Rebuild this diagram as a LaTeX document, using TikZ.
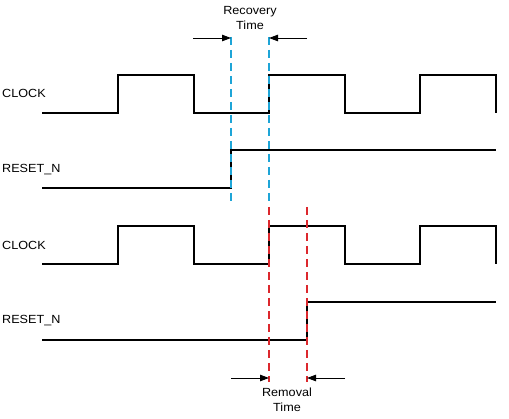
\documentclass[tikz,border=0pt]{standalone}
\usepackage{fontspec}
\setmainfont{Liberation Sans}[FakeStretch=1.07]
\usetikzlibrary{arrows.meta}
\definecolor{recblue}{RGB}{30,165,215}
\definecolor{remred}{RGB}{220,40,45}
\tikzset{
  wave/.style={line width=1.8pt, line join=miter},
  siglabel/.style={font=\fontsize{11.8}{14}\selectfont, anchor=west, inner sep=0pt},
  timelabel/.style={font=\fontsize{11.8}{14.5}\selectfont, align=center, inner sep=0pt},
  marker/.style={line width=1.5pt, dash pattern=on 8pt off 5pt},
  span/.style={line width=0.9pt, -{Triangle[length=9pt,width=6.5pt]}}
}

\begin{document}
\begin{tikzpicture}[x=1pt,y=-1pt]
    \useasboundingbox (0,0) rectangle (509,419);
    % signal names
    \node[siglabel] (clkA) at (2,93.5) {CLOCK};
    \node[siglabel] (rstA) at (2,169.5) {RESET\_N};
    \node[siglabel] (clkB) at (2,245) {CLOCK};
    \node[siglabel] (rstB) at (2,321) {RESET\_N};
    % waveforms
    \foreach \dy in {0,151}
      \draw[wave] (42,113+\dy) -| (118,75+\dy) -| (194,113+\dy) -| (269,75+\dy)
        -| (345,113+\dy) -| (420,75+\dy) -| (496,113+\dy);
    \draw[wave] (42,188) -| (231,150) -- (496,150);
    \draw[wave] (42,340) -| (307,302) -- (496,302);
    % recovery
    \coordinate (recA) at (231,37);
    \coordinate (recB) at (269,37);
    \draw[marker, recblue] (recA) -- ++(0,168);
    \draw[marker, recblue] (recB) -- ++(0,168);
    \coordinate (recL) at (193,38);
    \coordinate (recR) at (307,38);
    \draw[span] (recL) -- (recA |- recL);
    \draw[span] (recR) -- (recB |- recR);
    \node[timelabel] (rec) at (250,18) {Recovery\\Time};
    % removal
    \coordinate (remA) at (269,207);
    \coordinate (remB) at (307,207);
    \draw[marker, remred] (remA) -- ++(0,175);
    \draw[marker, remred] (remB) -- ++(0,175);
    \coordinate (remL) at (231,378);
    \coordinate (remR) at (345,378);
    \draw[span] (remL) -- (remA |- remL);
    \draw[span] (remR) -- (remB |- remR);
    \node[timelabel] (rem) at (287,400) {Removal\\Time};
  \end{tikzpicture}
\end{document}
